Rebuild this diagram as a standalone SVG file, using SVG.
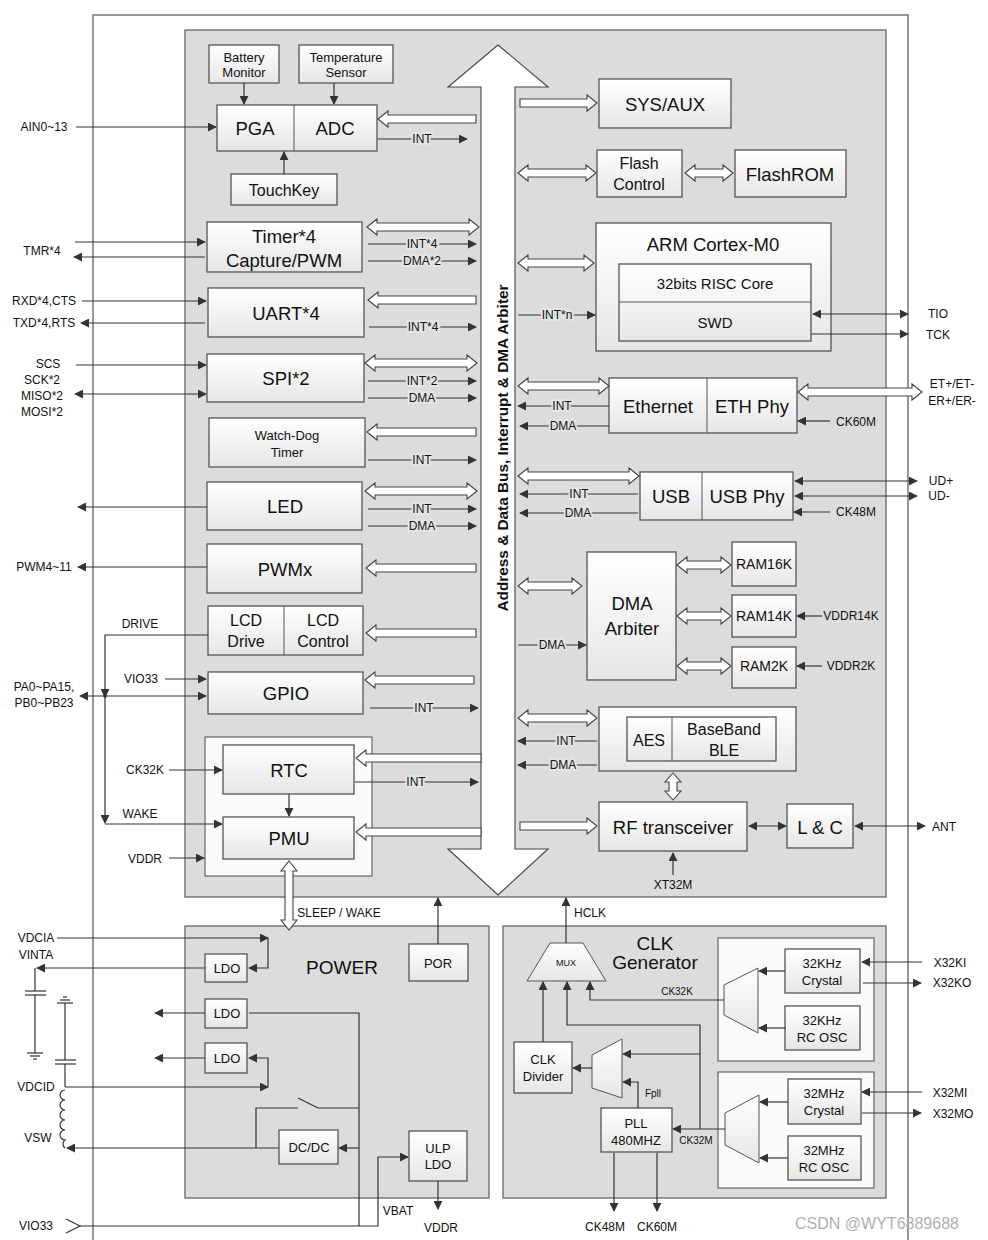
<svg xmlns="http://www.w3.org/2000/svg" width="988" height="1240" viewBox="0 0 988 1240">
<defs>
<linearGradient id="g" x1="0" y1="0" x2="0" y2="1"><stop offset="0" stop-color="#ffffff"/><stop offset="1" stop-color="#e6e6e6"/></linearGradient>
<marker id="a" viewBox="0 0 10 10" refX="9" refY="5" markerWidth="9" markerHeight="9" markerUnits="userSpaceOnUse" orient="auto-start-reverse"><path d="M0,0 L10,5 L0,10 Z" fill="#333"/></marker>
</defs>
<style>
text{font-family:"Liberation Sans",Arial,sans-serif;fill:#111;text-anchor:middle;dominant-baseline:central}
.b{fill:url(#g);stroke:#555;stroke-width:1.3}
.p{fill:#dcdcdc;stroke:#666;stroke-width:1.3}
.w{fill:#fafafa;stroke:#666;stroke-width:1.2}
.h{fill:#fff;stroke:#444;stroke-width:1.1}
.l{fill:none;stroke:#333;stroke-width:1.2}
.e{marker-end:url(#a)}
.s{marker-start:url(#a)}
.lb{font-size:12px;paint-order:stroke;stroke:#e4e4e4;stroke-width:4px}
.o{font-size:12px}
.L{font-size:18.5px}
.M{font-size:16px}
.S{font-size:13px}
</style>
<rect x="93" y="15" width="815" height="1240" fill="none" stroke="#555" stroke-width="1.2"/>
<rect class="p" x="185" y="30" width="701" height="867"/>
<rect class="p" x="185" y="926" width="304" height="272"/>
<rect class="p" x="503" y="926" width="383" height="272"/>

<g id="bus"><polygon class="h" points="498,45 548,87 515,87 515,849 548,849 498,895 448,849 481,849 481,87 448,87"/>
<text x="503" y="448" transform="rotate(-90 503 448)" font-size="14" font-weight="bold" textLength="327" lengthAdjust="spacingAndGlyphs">Address &amp; Data Bus, Interrupt &amp; DMA Arbiter</text></g>

<g id="battery"><rect class="b" x="209" y="45" width="70" height="38"/><text x="244" y="57" class="S">Battery</text><text x="244" y="72" class="S">Monitor</text></g>
<g id="temp"><rect class="b" x="299" y="45" width="94" height="38"/><text x="346" y="57" class="S">Temperature</text><text x="346" y="72" class="S">Sensor</text></g>
<g id="pgaadc"><rect class="b" x="217" y="105" width="160" height="46"/><line x1="294" y1="105" x2="294" y2="151" stroke="#555"/><text x="255" y="128" class="L">PGA</text><text x="335" y="128" class="L">ADC</text></g>
<g id="touchkey"><rect class="b" x="231" y="174" width="106" height="31"/><text x="284" y="190" class="M">TouchKey</text></g>
<g id="timer"><rect class="b" x="207" y="222" width="155" height="50"/><text x="284" y="236" class="L">Timer*4</text><text x="284" y="260" class="L">Capture/PWM</text></g>
<g id="uart"><rect class="b" x="208" y="288" width="156" height="49"/><text x="286" y="313" class="L">UART*4</text></g>
<g id="spi"><rect class="b" x="207" y="354" width="157" height="48"/><text x="286" y="378" class="L">SPI*2</text></g>
<g id="wdt"><rect class="b" x="209" y="418" width="156" height="49"/><text x="287" y="435" class="S">Watch-Dog</text><text x="287" y="452" class="S">Timer</text></g>
<g id="led"><rect class="b" x="207" y="482" width="155" height="48"/><text x="285" y="506" class="L">LED</text></g>
<g id="pwmx"><rect class="b" x="207" y="544" width="155" height="49"/><text x="285" y="569" class="L">PWMx</text></g>
<g id="lcd"><rect class="b" x="208" y="606" width="155" height="49"/><line x1="284" y1="606" x2="284" y2="655" stroke="#555"/><text x="246" y="620" class="M">LCD</text><text x="246" y="641" class="M">Drive</text><text x="323" y="620" class="M">LCD</text><text x="323" y="641" class="M">Control</text></g>
<g id="gpio"><rect class="b" x="208" y="672" width="155" height="42"/><text x="286" y="693" class="L">GPIO</text></g>
<g id="rtcpmu"><rect class="w" x="205" y="737" width="167" height="139"/></g>
<g id="rtc"><rect class="b" x="223" y="745" width="131" height="49"/><text x="289" y="770" class="L">RTC</text></g>
<g id="pmu"><rect class="b" x="223" y="817" width="131" height="42"/><text x="289" y="838" class="L">PMU</text></g>

<g id="sysaux"><rect class="b" x="599" y="79" width="132" height="49"/><text x="665" y="104" class="L">SYS/AUX</text></g>
<g id="flashctl"><rect class="b" x="597" y="150" width="85" height="47"/><text x="639" y="163" class="M">Flash</text><text x="639" y="184" class="M">Control</text></g>
<g id="flashrom"><rect class="b" x="735" y="150" width="111" height="47"/><text x="790" y="174" class="L">FlashROM</text></g>
<g id="arm"><rect class="b" x="596" y="223" width="235" height="128"/><text x="713" y="244" class="L">ARM Cortex-M0</text>
<rect class="b" x="619" y="264" width="192" height="77"/><line x1="619" y1="302" x2="811" y2="302" stroke="#555"/><text x="715" y="283" font-size="15">32bits RISC Core</text><text x="715" y="322" font-size="15">SWD</text></g>
<g id="eth"><rect class="b" x="609" y="378" width="188" height="55"/><line x1="707" y1="378" x2="707" y2="433" stroke="#555"/><text x="658" y="406" class="L">Ethernet</text><text x="752" y="406" class="L">ETH Phy</text></g>
<g id="usb"><rect class="b" x="640" y="472" width="153" height="48"/><line x1="702" y1="472" x2="702" y2="520" stroke="#555"/><text x="671" y="496" class="L">USB</text><text x="747" y="496" class="L">USB Phy</text></g>
<g id="dmaarb"><rect class="b" x="587" y="552" width="89" height="128"/><text x="632" y="603" class="L">DMA</text><text x="632" y="628" class="L">Arbiter</text></g>
<g id="ram16"><rect class="b" x="732" y="542" width="64" height="44"/><text x="764" y="564" font-size="14">RAM16K</text></g>
<g id="ram14"><rect class="b" x="732" y="595" width="64" height="42"/><text x="764" y="616" font-size="14">RAM14K</text></g>
<g id="ram2"><rect class="b" x="732" y="647" width="64" height="41"/><text x="764" y="666" font-size="14">RAM2K</text></g>
<g id="ble"><rect class="b" x="599" y="707" width="197" height="64"/><rect class="b" x="627" y="717" width="149" height="44"/><line x1="672" y1="717" x2="672" y2="761" stroke="#555"/><text x="649" y="740" class="M">AES</text><text x="724" y="729" class="M">BaseBand</text><text x="724" y="750" class="M">BLE</text></g>
<g id="rf"><rect class="b" x="599" y="802" width="148" height="49"/><text x="673" y="827" class="L">RF transceiver</text></g>
<g id="lc"><rect class="b" x="787" y="804" width="66" height="44"/><text x="820" y="827" class="L">L &amp; C</text></g>

<g id="power"><text x="342" y="967" font-size="19">POWER</text>
<rect class="b" x="205" y="954" width="42" height="28"/><text x="227" y="968" class="S">LDO</text>
<rect class="b" x="205" y="999" width="42" height="29"/><text x="227" y="1013" class="S">LDO</text>
<rect class="b" x="205" y="1043" width="42" height="30"/><text x="227" y="1058" class="S">LDO</text>
<rect class="b" x="409" y="944" width="59" height="37"/><text x="438" y="963" class="S">POR</text>
<rect class="b" x="279" y="1130" width="59" height="34"/><text x="309" y="1147" class="S">DC/DC</text>
<rect class="b" x="409" y="1131" width="58" height="50"/><text x="438" y="1148" class="S">ULP</text><text x="438" y="1164" class="S">LDO</text></g>

<g id="clk"><text x="655" y="943" font-size="19">CLK</text><text x="655" y="962" font-size="19">Generator</text>
<polygon points="550,943 583,943 606,981 527,981" style="fill:url(#g);stroke:#555"/><text x="566" y="963" font-size="9">MUX</text>
<rect class="b" x="514" y="1042" width="58" height="51"/><text x="543" y="1059" class="S">CLK</text><text x="543" y="1076" class="S">Divider</text>
<polygon points="592,1055 622,1039 622,1098 592,1088" style="fill:url(#g);stroke:#555"/>
<rect class="b" x="601" y="1108" width="71" height="44"/><text x="636" y="1123" class="S">PLL</text><text x="636" y="1140" class="S">480MHZ</text>
<rect class="w" x="718" y="938" width="156" height="123"/>
<rect class="w" x="718" y="1072" width="156" height="116"/>
<rect class="b" x="785" y="949" width="75" height="44"/><text x="822" y="963" class="S">32KHz</text><text x="822" y="980" class="S">Crystal</text>
<rect class="b" x="785" y="1006" width="75" height="44"/><text x="822" y="1020" class="S">32KHz</text><text x="822" y="1037" class="S">RC OSC</text>
<rect class="b" x="788" y="1079" width="73" height="45"/><text x="824" y="1093" class="S">32MHz</text><text x="824" y="1110" class="S">Crystal</text>
<rect class="b" x="788" y="1136" width="73" height="44"/><text x="824" y="1150" class="S">32MHz</text><text x="824" y="1167" class="S">RC OSC</text>
<polygon points="724,985 758,968 758,1033 724,1015" style="fill:url(#g);stroke:#555"/>
<polygon points="725,1113 759,1095 759,1163 725,1145" style="fill:url(#g);stroke:#555"/></g>

<g id="connectors">
<g class="h">
<polygon points="378,119 388,111 388,115 476,115 476,123 388,123 388,127"/>
<polygon points="367,227 377,219 377,223 469,223 469,219 479,227 469,235 469,231 377,231 377,235"/>
<polygon points="368,300 378,292 378,296 476,296 476,304 378,304 378,308"/>
<polygon points="365,363 375,355 375,359 467,359 467,355 477,363 467,371 467,367 375,367 375,371"/>
<polygon points="367,432 377,424 377,428 476,428 476,436 377,436 377,440"/>
<polygon points="365,491 375,483 375,487 467,487 467,483 477,491 467,499 467,495 375,495 375,499"/>
<polygon points="366,568 376,560 376,564 476,564 476,572 376,572 376,576"/>
<polygon points="366,633 376,625 376,629 476,629 476,637 376,637 376,641"/>
<polygon points="365,680 375,672 375,676 474,676 474,684 375,684 375,688"/>
<polygon points="356,758 366,750 366,754 481,754 481,762 366,762 366,766"/>
<polygon points="356,832 366,824 366,828 481,828 481,836 366,836 366,840"/>
<polygon points="520,99 587,99 587,95 597,103 587,111 587,107 520,107"/>
<polygon points="518,173 528,165 528,169 586,169 586,165 596,173 586,181 586,177 528,177 528,181"/>
<polygon points="685,173 695,165 695,169 723,169 723,165 733,173 723,181 723,177 695,177 695,181"/>
<polygon points="518,263 528,255 528,259 584,259 584,255 594,263 584,271 584,267 528,267 528,271"/>
<polygon points="518,386 528,378 528,382 599,382 599,378 609,386 599,394 599,390 528,390 528,394"/>
<polygon points="798,392 808,384 808,388 912,388 912,384 922,392 912,400 912,396 808,396 808,400"/>
<polygon points="518,476 528,468 528,472 629,472 629,468 639,476 629,484 629,480 528,480 528,484"/>
<polygon points="518,586 528,578 528,582 572,582 572,578 582,586 572,594 572,590 528,590 528,594"/>
<polygon points="677,565 687,557 687,561 721,561 721,557 731,565 721,573 721,569 687,569 687,573"/>
<polygon points="677,616 687,608 687,612 721,612 721,608 731,616 721,624 721,620 687,620 687,624"/>
<polygon points="677,666 687,658 687,662 721,662 721,658 731,666 721,674 721,670 687,670 687,674"/>
<polygon points="518,718 528,710 528,714 587,714 587,710 597,718 587,726 587,722 528,722 528,726"/>
<polygon points="520,822 587,822 587,818 597,826 587,834 587,830 520,830"/>
<polygon points="673,773 681,782 677,782 677,791 681,791 673,800 665,791 669,791 669,782 665,782"/>
<polygon points="289,861 297,871 293,871 293,920 297,920 289,930 281,920 285,920 285,871 281,871"/>
</g>
<line class="l e" x1="244" y1="83" x2="244" y2="104"/>
<line class="l e" x1="334" y1="83" x2="334" y2="104"/>
<line class="l e" x1="284" y1="174" x2="284" y2="152"/>
<line class="l e" x1="378" y1="139" x2="467" y2="139"/>
<line class="l e" x1="368" y1="244" x2="476" y2="244"/>
<line class="l e" x1="368" y1="261" x2="476" y2="261"/>
<line class="l e" x1="369" y1="327" x2="476" y2="327"/>
<line class="l e" x1="368" y1="381" x2="476" y2="381"/>
<line class="l e" x1="368" y1="398" x2="476" y2="398"/>
<line class="l e" x1="368" y1="460" x2="476" y2="460"/>
<line class="l e" x1="368" y1="509" x2="476" y2="509"/>
<line class="l e" x1="368" y1="526" x2="476" y2="526"/>
<line class="l e" x1="370" y1="708" x2="478" y2="708"/>
<line class="l e" x1="355" y1="782" x2="478" y2="782"/>
<line class="l e" x1="289" y1="794" x2="289" y2="816"/>
<line class="l e" x1="518" y1="315" x2="595" y2="315"/>
<line class="l e" x1="609" y1="406" x2="518" y2="406"/>
<line class="l e" x1="609" y1="426" x2="520" y2="426"/>
<line class="l e" x1="638" y1="494" x2="520" y2="494"/>
<line class="l e" x1="638" y1="513" x2="520" y2="513"/>
<line class="l e" x1="518" y1="645" x2="586" y2="645"/>
<line class="l e" x1="597" y1="741" x2="518" y2="741"/>
<line class="l e" x1="597" y1="765" x2="518" y2="765"/>
<line class="l e s" x1="749" y1="826" x2="786" y2="826"/>
<line class="l e s" x1="855" y1="826" x2="925" y2="826"/>
<line class="l e" x1="673" y1="875" x2="673" y2="853"/>
<line class="l e" x1="830" y1="421" x2="798" y2="421"/>
<line class="l e" x1="830" y1="512" x2="794" y2="512"/>
<line class="l e s" x1="795" y1="481" x2="917" y2="481"/>
<line class="l e s" x1="795" y1="496" x2="917" y2="496"/>
<line class="l e" x1="822" y1="616" x2="797" y2="616"/>
<line class="l e" x1="822" y1="666" x2="797" y2="666"/>
<line class="l e s" x1="813" y1="314" x2="908" y2="314"/>
<line class="l e" x1="811" y1="334" x2="908" y2="334"/>
<line class="l e" x1="76" y1="127" x2="216" y2="127"/>
<line class="l e" x1="75" y1="242" x2="205" y2="242"/>
<line class="l e" x1="205" y1="257" x2="74" y2="257"/>
<line class="l e" x1="82" y1="301" x2="206" y2="301"/>
<line class="l e" x1="205" y1="323" x2="81" y2="323"/>
<line class="l e" x1="76" y1="365" x2="206" y2="365"/>
<line class="l e s" x1="75" y1="394" x2="206" y2="394"/>
<line class="l e" x1="207" y1="507" x2="78" y2="507"/>
<line class="l e" x1="207" y1="567" x2="78" y2="567"/>
<polyline class="l e" points="208,635 105,635 105,697"/>
<line class="l e s" x1="80" y1="696" x2="206" y2="696"/>
<circle cx="105" cy="696" r="1.8" fill="#333"/>
<polyline class="l e" points="105,696 105,823"/>
<line class="l e" x1="105" y1="824" x2="222" y2="824"/>
<line class="l e" x1="165" y1="679" x2="206" y2="679"/>
<line class="l e" x1="169" y1="770" x2="222" y2="770"/>
<line class="l e" x1="169" y1="858" x2="204" y2="858"/>
<line class="l e" x1="438" y1="944" x2="438" y2="898"/>
<line class="l e" x1="57" y1="938" x2="268" y2="938"/>
<polyline class="l e" points="268,938 268,968 249,968"/>
<line class="l e" x1="205" y1="968" x2="37" y2="968"/>
<line class="l" x1="35" y1="968" x2="35" y2="991"/>
<line class="l" x1="25" y1="991" x2="46" y2="991"/><line class="l" x1="25" y1="995" x2="46" y2="995"/>
<line class="l" x1="35" y1="995" x2="35" y2="1053"/>
<line class="l" x1="27" y1="1053" x2="43" y2="1053"/><line class="l" x1="30" y1="1056" x2="40" y2="1056"/><line class="l" x1="33" y1="1059" x2="37" y2="1059"/>
<line class="l" x1="60" y1="1000" x2="70" y2="1000"/><line class="l" x1="63" y1="997" x2="67" y2="997"/><line class="l" x1="57" y1="1003" x2="73" y2="1003"/>
<line class="l" x1="65" y1="1003" x2="65" y2="1060"/>
<line class="l" x1="55" y1="1060" x2="76" y2="1060"/><line class="l" x1="55" y1="1064" x2="76" y2="1064"/>
<line class="l" x1="65" y1="1064" x2="65" y2="1087"/>
<line class="l e" x1="65" y1="1087" x2="268" y2="1087"/>
<polyline class="l e" points="268,1087 268,1058 249,1058"/>
<path class="l" d="M65,1090 a5,5 0 0 0 0,10 a5,5 0 0 0 0,10 a5,5 0 0 0 0,10 a5,5 0 0 0 0,10 a5,5 0 0 0 0,10 a5,5 0 0 0 0,8"/>
<line class="l e" x1="279" y1="1148" x2="67" y2="1148"/>
<line class="l e" x1="205" y1="1013" x2="155" y2="1013"/>
<line class="l e" x1="205" y1="1058" x2="155" y2="1058"/>
<polyline class="l" points="249,1013 359,1013 359,1226"/>
<polyline class="l" points="256,1148 256,1108 298,1108"/>
<line class="l" x1="298" y1="1098" x2="318" y2="1108"/>
<line class="l" x1="318" y1="1108" x2="359" y2="1108"/>
<line class="l e" x1="359" y1="1148" x2="339" y2="1148"/>
<polyline class="l e" points="80,1226 378,1226 378,1157 408,1157"/>
<polyline class="l" points="66,1219 80,1226 66,1233"/>
<line class="l e" x1="438" y1="1181" x2="438" y2="1209"/>
<line class="l e" x1="566" y1="943" x2="566" y2="898"/>
<line class="l e" x1="543" y1="1042" x2="543" y2="982"/>
<polyline class="l e" points="700,1129 700,1025 567,1025 567,982"/>
<polyline class="l e" points="724,1000 590,1000 590,982"/>
<line class="l e" x1="592" y1="1068" x2="573" y2="1068"/>
<line class="l e" x1="700" y1="1054" x2="623" y2="1054"/>
<polyline class="l e" points="638,1108 638,1082 623,1082"/>
<line class="l e" x1="725" y1="1129" x2="673" y2="1129"/>
<line class="l e" x1="614" y1="1153" x2="614" y2="1211"/>
<line class="l e" x1="657" y1="1153" x2="657" y2="1211"/>
<line class="l e" x1="785" y1="971" x2="759" y2="971"/>
<line class="l e" x1="786" y1="1028" x2="759" y2="1028"/>
<line class="l e" x1="788" y1="1102" x2="760" y2="1102"/>
<line class="l e" x1="788" y1="1158" x2="760" y2="1158"/>
<line class="l e" x1="922" y1="962" x2="862" y2="962"/>
<line class="l e" x1="863" y1="983" x2="921" y2="983"/>
<line class="l e" x1="922" y1="1092" x2="862" y2="1092"/>
<line class="l e" x1="862" y1="1113" x2="921" y2="1113"/>
</g>

<g id="labels">
<text x="422" y="139" class="lb">INT</text>
<text x="422" y="244" class="lb">INT*4</text>
<text x="422" y="261" class="lb">DMA*2</text>
<text x="423" y="327" class="lb">INT*4</text>
<text x="422" y="381" class="lb">INT*2</text>
<text x="422" y="398" class="lb">DMA</text>
<text x="422" y="460" class="lb">INT</text>
<text x="422" y="509" class="lb">INT</text>
<text x="422" y="526" class="lb">DMA</text>
<text x="424" y="708" class="lb">INT</text>
<text x="416" y="782" class="lb">INT</text>
<text x="557" y="315" class="lb">INT*n</text>
<text x="562" y="406" class="lb">INT</text>
<text x="563" y="426" class="lb">DMA</text>
<text x="579" y="494" class="lb">INT</text>
<text x="578" y="513" class="lb">DMA</text>
<text x="552" y="645" class="lb">DMA</text>
<text x="566" y="741" class="lb">INT</text>
<text x="563" y="765" class="lb">DMA</text>
<text x="44" y="127" class="o">AIN0~13</text>
<text x="42" y="251" class="o">TMR*4</text>
<text x="44" y="301" class="o">RXD*4,CTS</text>
<text x="44" y="323" class="o">TXD*4,RTS</text>
<text x="48" y="364" class="o">SCS</text>
<text x="42" y="380" class="o">SCK*2</text>
<text x="42" y="396" class="o">MISO*2</text>
<text x="42" y="412" class="o">MOSI*2</text>
<text x="44" y="567" class="o">PWM4~11</text>
<text x="140" y="624" class="o">DRIVE</text>
<text x="141" y="679" class="o">VIO33</text>
<text x="44" y="687" class="o">PA0~PA15,</text>
<text x="44" y="703" class="o">PB0~PB23</text>
<text x="145" y="770" class="o">CK32K</text>
<text x="140" y="814" class="o">WAKE</text>
<text x="145" y="859" class="o">VDDR</text>
<text x="938" y="314" class="o">TIO</text>
<text x="938" y="335" class="o">TCK</text>
<text x="952" y="384" class="o">ET+/ET-</text>
<text x="952" y="401" class="o">ER+/ER-</text>
<text x="856" y="422" class="o">CK60M</text>
<text x="941" y="481" class="o">UD+</text>
<text x="939" y="496" class="o">UD-</text>
<text x="856" y="512" class="o">CK48M</text>
<text x="851" y="616" class="o">VDDR14K</text>
<text x="851" y="666" class="o">VDDR2K</text>
<text x="944" y="827" class="o">ANT</text>
<text x="673" y="885" class="o">XT32M</text>
<text x="339" y="913" class="o">SLEEP / WAKE</text>
<text x="590" y="913" class="o">HCLK</text>
<text x="36" y="938" class="o">VDCIA</text>
<text x="36" y="955" class="o">VINTA</text>
<text x="36" y="1087" class="o">VDCID</text>
<text x="38" y="1138" class="o">VSW</text>
<text x="36" y="1226" class="o">VIO33</text>
<text x="398" y="1211" class="o">VBAT</text>
<text x="441" y="1228" class="o">VDDR</text>
<text x="677" y="991" font-size="10">CK32K</text>
<text x="653" y="1093" font-size="10">Fpll</text>
<text x="696" y="1140" font-size="10">CK32M</text>
<text x="605" y="1227" class="o">CK48M</text>
<text x="657" y="1227" class="o">CK60M</text>
<text x="950" y="963" class="o">X32KI</text>
<text x="952" y="983" class="o">X32KO</text>
<text x="950" y="1093" class="o">X32MI</text>
<text x="953" y="1114" class="o">X32MO</text>
<text x="877" y="1223" font-size="16" style="fill:#b0b0b0">CSDN @WYT6889688</text>
</g>
</svg>
